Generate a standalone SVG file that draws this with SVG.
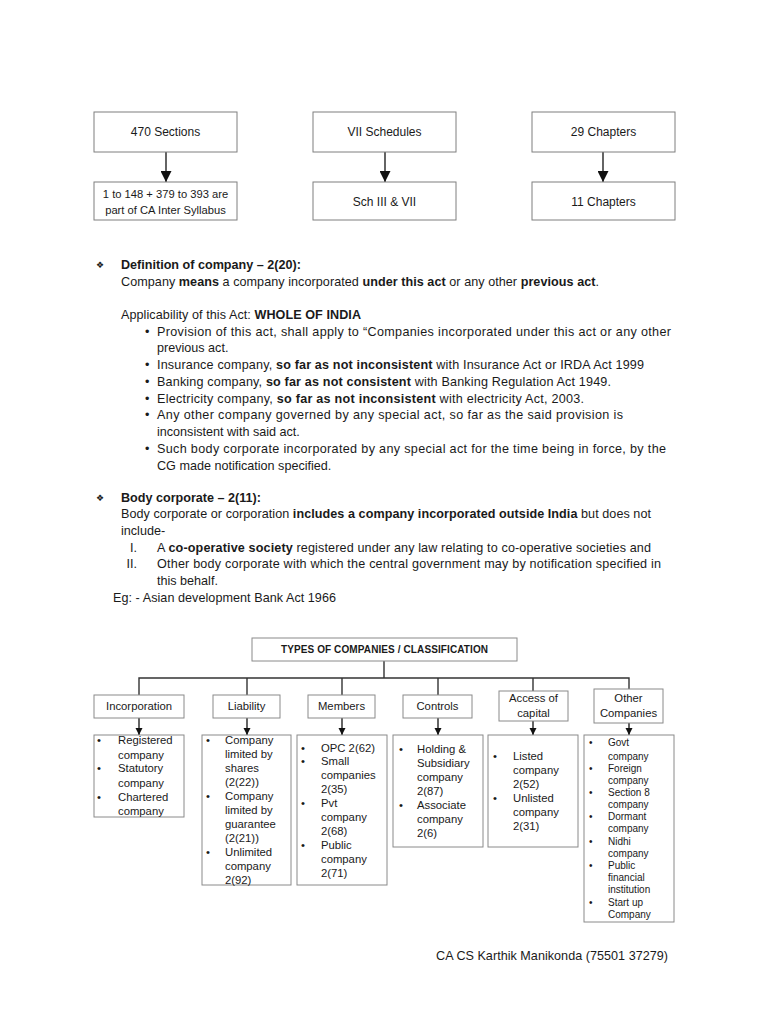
<svg xmlns="http://www.w3.org/2000/svg" width="768" height="1024" viewBox="0 0 768 1024">
<defs>
<style>
text{font-family:"Liberation Sans",Arial,sans-serif;fill:#1a1a1a}
.b{font-weight:bold}
.t{font-size:12.6px}
.bx{font-size:12px}
.sm{font-size:11.2px}
.c{text-anchor:middle}
.box{fill:#fff;stroke:#7f7f7f;stroke-width:1}
.cbox{fill:#fff;stroke:#8a8a8a;stroke-width:1}
.conn{stroke:#333;stroke-width:1.4;fill:none}
.ln{stroke:#111;stroke-width:1.3;fill:none}
.li{font-size:11.3px}
.lo{font-size:10px}
.sym{font-family:"DejaVu Sans",sans-serif;font-size:9px}
</style>
<marker id="ah" viewBox="0 0 10 10" refX="10" refY="5" markerWidth="7" markerHeight="8" markerUnits="userSpaceOnUse" orient="auto"><path d="M0,0 L10,5 L0,10 z" fill="#111"/></marker>
<marker id="ah2" viewBox="0 0 10 10" refX="10" refY="5" markerWidth="11" markerHeight="11" markerUnits="userSpaceOnUse" orient="auto"><path d="M0,0 L10,5 L0,10 z" fill="#111"/></marker>
</defs>
<rect width="768" height="1024" fill="#fff"/>

<g id="top-connectors">
<line class="ln" x1="166" y1="152" x2="166" y2="182" marker-end="url(#ah2)"/>
<line class="ln" x1="385" y1="152" x2="385" y2="182" marker-end="url(#ah2)"/>
<line class="ln" x1="603" y1="152" x2="603" y2="182" marker-end="url(#ah2)"/>
</g>
<g id="n-sections"><rect class="box" x="94" y="112" width="143" height="40"/><text class="bx c" x="165.5" y="136">470 Sections</text></g>
<g id="n-syllabus"><rect class="box" x="94" y="182" width="143" height="38"/><text class="sm c" x="165.5" y="198">1 to 148 + 379 to 393 are</text><text class="sm c" x="165.5" y="213.5">part of CA Inter Syllabus</text></g>
<g id="n-schedules"><rect class="box" x="313" y="112" width="143" height="40"/><text class="bx c" x="384.5" y="136">VII Schedules</text></g>
<g id="n-sch"><rect class="box" x="313" y="182" width="143" height="38"/><text class="bx c" x="384.5" y="205.5">Sch III &amp; VII</text></g>
<g id="n-chapters"><rect class="box" x="532" y="112" width="143" height="40"/><text class="bx c" x="603.5" y="136">29 Chapters</text></g>
<g id="n-11chapters"><rect class="box" x="532" y="182" width="143" height="38"/><text class="bx c" x="603.5" y="205.5">11 Chapters</text></g>

<g id="definition" class="t">
<text class="sym" x="96" y="268">❖</text>
<text class="t b" x="121" y="268.5">Definition of company – 2(20):</text>
<text class="t" x="121" y="285.5" textLength="478">Company <tspan class="b">means</tspan> a company incorporated <tspan class="b">under this act</tspan> or any other <tspan class="b">previous act</tspan>.</text>
<text class="t" x="121" y="319" textLength="240">Applicability of this Act: <tspan class="b">WHOLE OF INDIA</tspan></text>
<text class="t" x="145" y="335.5">•</text><text class="t" x="157" y="335.5" textLength="514">Provision of this act, shall apply to “Companies incorporated under this act or any other</text>
<text class="t" x="157" y="352.3">previous act.</text>
<text class="t" x="145" y="369">•</text><text class="t" x="157" y="369" textLength="487">Insurance company, <tspan class="b">so far as not inconsistent</tspan> with Insurance Act or IRDA Act 1999</text>
<text class="t" x="145" y="385.8">•</text><text class="t" x="157" y="385.8" textLength="454">Banking company, <tspan class="b">so far as not consistent</tspan> with Banking Regulation Act 1949.</text>
<text class="t" x="145" y="402.5">•</text><text class="t" x="157" y="402.5" textLength="427">Electricity company, <tspan class="b">so far as not inconsistent</tspan> with electricity Act, 2003.</text>
<text class="t" x="145" y="419.3">•</text><text class="t" x="157" y="419.3" textLength="466">Any other company governed by any special act, so far as the said provision is</text>
<text class="t" x="157" y="436">inconsistent with said act.</text>
<text class="t" x="145" y="452.8">•</text><text class="t" x="157" y="452.8" textLength="509">Such body corporate incorporated by any special act for the time being in force, by the</text>
<text class="t" x="157" y="469.5">CG made notification specified.</text>
</g>

<g id="body-corporate">
<text class="sym" x="96" y="501">❖</text>
<text class="t b" x="121" y="501.5">Body corporate – 2(11):</text>
<text class="t" x="121" y="518.2" textLength="530">Body corporate or corporation <tspan class="b">includes a company incorporated outside India</tspan> but does not</text>
<text class="t" x="121" y="535">include-</text>
<text class="t" x="137" y="551.6" text-anchor="end">I.</text><text class="t" x="157" y="551.6" textLength="494">A <tspan class="b">co-operative society</tspan> registered under any law relating to co-operative societies and</text>
<text class="t" x="137" y="568.3" text-anchor="end">II.</text><text class="t" x="157" y="568.3" textLength="504">Other body corporate with which the central government may by notification specified in</text>
<text class="t" x="157" y="585">this behalf.</text>
<text class="t" x="113" y="601.7" textLength="223">Eg: - Asian development Bank Act 1966</text>
</g>

<g id="chart-connectors">
<polyline class="conn" points="384,661 384,678"/>
<polyline class="conn" points="139,695 139,678 629,678 629,689"/>
<line class="conn" x1="247" y1="678" x2="247" y2="695"/>
<line class="conn" x1="342" y1="678" x2="342" y2="695"/>
<line class="conn" x1="438" y1="678" x2="438" y2="695"/>
<line class="conn" x1="533" y1="678" x2="533" y2="691"/>
<line class="ln" x1="139" y1="718" x2="139" y2="735" marker-end="url(#ah)"/>
<line class="ln" x1="247" y1="718" x2="247" y2="735" marker-end="url(#ah)"/>
<line class="ln" x1="342" y1="718" x2="342" y2="735" marker-end="url(#ah)"/>
<line class="ln" x1="438" y1="718" x2="438" y2="735" marker-end="url(#ah)"/>
<line class="ln" x1="533" y1="721" x2="533" y2="735" marker-end="url(#ah)"/>
<line class="ln" x1="629" y1="723" x2="629" y2="735" marker-end="url(#ah)"/>
</g>

<g id="n-types"><rect class="cbox" x="252" y="638" width="265" height="23"/><text class="b c" x="384.5" y="653" style="font-size:10px" textLength="207">TYPES OF COMPANIES / CLASSIFICATION</text></g>
<g id="n-incorporation"><rect class="cbox" x="94" y="695" width="90" height="23"/><text class="li c" x="139" y="710">Incorporation</text></g>
<g id="n-liability"><rect class="cbox" x="213" y="695" width="67" height="23"/><text class="li c" x="246.5" y="710">Liability</text></g>
<g id="n-members"><rect class="cbox" x="308" y="695" width="67" height="23"/><text class="li c" x="341.5" y="710">Members</text></g>
<g id="n-controls"><rect class="cbox" x="403" y="695" width="69" height="23"/><text class="li c" x="437.5" y="710">Controls</text></g>
<g id="n-access"><rect class="cbox" x="499" y="691" width="69" height="30"/><text class="li c" x="533.5" y="702">Access of</text><text class="li c" x="533.5" y="717">capital</text></g>
<g id="n-other"><rect class="cbox" x="594" y="689" width="69" height="34"/><text class="li c" x="628.5" y="702">Other</text><text class="li c" x="628.5" y="717">Companies</text></g>

<g id="n-inc-list"><rect class="cbox" x="94" y="735" width="90" height="82"/>
<text class="li" x="97" y="744">•</text><text class="li" x="118" y="744">Registered</text>
<text class="li" x="118" y="758.5">company</text>
<text class="li" x="97" y="772">•</text><text class="li" x="118" y="772">Statutory</text>
<text class="li" x="118" y="786.5">company</text>
<text class="li" x="97" y="800.5">•</text><text class="li" x="118" y="800.5">Chartered</text>
<text class="li" x="118" y="814.5">company</text>
</g>
<g id="n-liab-list"><rect class="cbox" x="202" y="735" width="89" height="150"/>
<text class="li" x="206" y="744">•</text><text class="li" x="225" y="744">Company</text>
<text class="li" x="225" y="757.5">limited by</text>
<text class="li" x="225" y="771.5">shares</text>
<text class="li" x="225" y="785.5">(2(22))</text>
<text class="li" x="206" y="800">•</text><text class="li" x="225" y="800">Company</text>
<text class="li" x="225" y="813.5">limited by</text>
<text class="li" x="225" y="827.5">guarantee</text>
<text class="li" x="225" y="841.5">(2(21))</text>
<text class="li" x="206" y="856">•</text><text class="li" x="225" y="856">Unlimited</text>
<text class="li" x="225" y="869.5">company</text>
<text class="li" x="225" y="883.5">2(92)</text>
</g>
<g id="n-mem-list"><rect class="cbox" x="297" y="735" width="90" height="150"/>
<text class="li" x="301" y="752">•</text><text class="li" x="321" y="752">OPC 2(62)</text>
<text class="li" x="301" y="764.5">•</text><text class="li" x="321" y="764.5">Small</text>
<text class="li" x="321" y="779">companies</text>
<text class="li" x="321" y="792.5">2(35)</text>
<text class="li" x="301" y="807">•</text><text class="li" x="321" y="807">Pvt</text>
<text class="li" x="321" y="821">company</text>
<text class="li" x="321" y="835">2(68)</text>
<text class="li" x="301" y="848.5">•</text><text class="li" x="321" y="848.5">Public</text>
<text class="li" x="321" y="862.5">company</text>
<text class="li" x="321" y="876.5">2(71)</text>
</g>
<g id="n-ctrl-list"><rect class="cbox" x="393" y="735" width="90" height="112"/>
<text class="li" x="399" y="753">•</text><text class="li" x="417" y="753">Holding &amp;</text>
<text class="li" x="417" y="766.5">Subsidiary</text>
<text class="li" x="417" y="781">company</text>
<text class="li" x="417" y="794.5">2(87)</text>
<text class="li" x="399" y="808.5">•</text><text class="li" x="417" y="808.5">Associate</text>
<text class="li" x="417" y="822.5">company</text>
<text class="li" x="417" y="836.5">2(6)</text>
</g>
<g id="n-access-list"><rect class="cbox" x="488" y="735" width="90" height="112"/>
<text class="li" x="493" y="760">•</text><text class="li" x="513" y="760">Listed</text>
<text class="li" x="513" y="774">company</text>
<text class="li" x="513" y="788">2(52)</text>
<text class="li" x="493" y="802">•</text><text class="li" x="513" y="802">Unlisted</text>
<text class="li" x="513" y="816">company</text>
<text class="li" x="513" y="830">2(31)</text>
</g>
<g id="n-other-list"><rect class="cbox" x="584" y="735" width="90" height="187"/>
<text class="lo" x="589" y="745.5">•</text><text class="lo" x="608" y="745.5">Govt</text>
<text class="lo" x="608" y="759.5">company</text>
<text class="lo" x="589" y="771.5">•</text><text class="lo" x="608" y="771.5">Foreign</text>
<text class="lo" x="608" y="783.5">company</text>
<text class="lo" x="589" y="795.5">•</text><text class="lo" x="608" y="795.5">Section 8</text>
<text class="lo" x="608" y="807.5">company</text>
<text class="lo" x="589" y="819.5">•</text><text class="lo" x="608" y="819.5">Dormant</text>
<text class="lo" x="608" y="831.5">company</text>
<text class="lo" x="589" y="844.5">•</text><text class="lo" x="608" y="844.5">Nidhi</text>
<text class="lo" x="608" y="856.5">company</text>
<text class="lo" x="589" y="868.5">•</text><text class="lo" x="608" y="868.5">Public</text>
<text class="lo" x="608" y="880.5">financial</text>
<text class="lo" x="608" y="892.5">institution</text>
<text class="lo" x="589" y="905.5">•</text><text class="lo" x="608" y="905.5">Start up</text>
<text class="lo" x="608" y="917.5">Company</text>
</g>

<text class="t" x="436" y="959.5" textLength="232">CA CS Karthik Manikonda (75501 37279)</text>
</svg>
